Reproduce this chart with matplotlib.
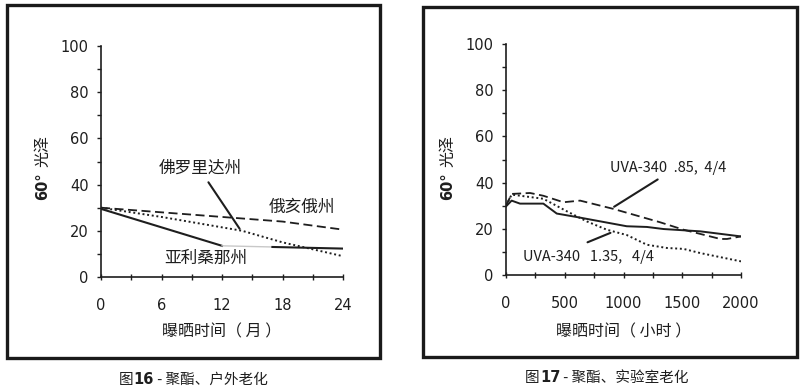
import matplotlib
matplotlib.use("Agg")
import matplotlib.pyplot as plt
from matplotlib.patches import Rectangle

plt.rcParams['font.family'] = ['DejaVu Sans', 'Noto Sans CJK SC']
CJK = ['Noto Sans CJK SC', 'DejaVu Sans']

# ---------------- data ----------------
# Fig 16: outdoor weathering (months)
florida_x = [0, 6, 12, 14, 18, 21, 24]
florida_y = [30, 26, 21.5, 20, 15, 12, 9]
ohio_x = [0, 6, 12, 18, 24]
ohio_y = [30, 28, 26, 24, 20.5]
arizona_x = [0, 12, 17, 24]
arizona_y = [29.5, 13.5, 13, 12.3]
left_xticks = [0, 6, 12, 18, 24]
left_yticks = [0, 20, 40, 60, 80, 100]

# Fig 17: lab weathering (hours)
solid_x = [0, 48, 119, 318, 432, 602, 1028, 1199, 1341, 1653, 2000]
solid_y = [29.7, 32.2, 30.9, 30.9, 26.6, 25.1, 21.1, 20.8, 19.9, 18.9, 16.7]
uva085_x = [0, 48, 205, 318, 489, 631, 915, 1313, 1511, 1824, 1881, 2000]
uva085_y = [30, 35.1, 35.5, 34.3, 31.5, 32.2, 28.6, 22.8, 19.6, 15.6, 15.6, 16.7]
uva135_x = [0, 48, 318, 517, 688, 858, 1028, 1199, 1369, 1511, 1653, 2000]
uva135_y = [30, 34.8, 33, 27.6, 23.2, 19.6, 17.3, 13.1, 11.7, 11.3, 9.5, 5.9]
right_xticks = [0, 500, 1000, 1500, 2000]
right_yticks = [0, 20, 40, 60, 80, 100]

W, H = 800, 391
fig = plt.figure(figsize=(8, 3.91), dpi=100)

def fx(px):
    return px / W

def fy(py):
    return 1 - py / H

# frames
for (x0, y0, x1, y1) in [(7, 5, 380, 358), (423, 7, 797, 357)]:
    fig.add_artist(Rectangle((fx(x0), fy(y1)), fx(x1 - x0), (y1 - y0) / H,
                             transform=fig.transFigure, fill=False,
                             lw=2.4, ec='#1a1a1a'))

ink = '#1e1e1e'

def style_axes(ax, xlim, xticks, xminor, yticks):
    ax.set_xlim(*xlim)
    ax.set_ylim(0, 100)
    for s in ['top', 'right']:
        ax.spines[s].set_visible(False)
    for s in ['left', 'bottom']:
        ax.spines[s].set_color(ink)
        ax.spines[s].set_linewidth(1.2)
    ax.set_xticks(xticks)
    ax.set_xticks(xminor, minor=True)
    ax.set_yticks(yticks)
    ax.set_yticks(list(range(10, 100, 20)), minor=True)
    ax.tick_params(axis='both', which='both', color=ink, width=1.0)
    ax.tick_params(axis='x', which='both', direction='inout', length=4, pad=13,
                   labelsize=10.5, labelcolor=ink)
    ax.tick_params(axis='y', which='both', direction='out', length=3, pad=6,
                   labelsize=10.5, labelcolor=ink)
    ax.patch.set_alpha(0)

# ---------- left chart ----------
axL = fig.add_axes([fx(101), fy(277), fx(343 - 101), (277 - 46) / H])
style_axes(axL, (0, 24), left_xticks, list(range(0, 25, 3)), left_yticks)
axL.plot(ohio_x, ohio_y, color=ink, lw=1.3, ls=(0, (5, 2.5)))
axL.plot(florida_x, florida_y, color=ink, lw=1.4, ls=(0, (1, 1.4)))
axL.plot(arizona_x[:2], arizona_y[:2], color=ink, lw=1.5)
axL.plot(arizona_x[1:3], arizona_y[1:3], color='#c8c8c8', lw=1.0)
axL.plot(arizona_x[2:], arizona_y[2:], color=ink, lw=1.5)
axL.annotate('', xy=(13.9, 19.9), xytext=(10.5, 42),
             arrowprops=dict(arrowstyle='-', color=ink, lw=1.5))
axL.text(9.8, 47, '佛罗里达州', family=CJK, fontsize=12, ha='center', va='center', color=ink)
axL.text(19.9, 30.3, '俄亥俄州', family=CJK, fontsize=12, ha='center', va='center', color=ink)
axL.text(10.4, 8.2, '亚利桑那州', family=CJK, fontsize=12, ha='center', va='center', color=ink)

# ---------- right chart ----------
axR = fig.add_axes([fx(506), fy(275), fx(741 - 506), (275 - 44) / H])
style_axes(axR, (0, 2000), right_xticks, list(range(0, 2001, 250)), right_yticks)
axR.plot(solid_x, solid_y, color=ink, lw=1.4)
axR.plot(uva085_x, uva085_y, color=ink, lw=1.3, ls=(0, (5, 2.5)))
axR.plot(uva135_x, uva135_y, color=ink, lw=1.4, ls=(0, (1, 1.4)))
axR.annotate('', xy=(900, 28.9), xytext=(1311, 42),
             arrowprops=dict(arrowstyle='-', color=ink, lw=1.5))
axR.annotate('', xy=(911, 18.7), xytext=(672, 13.7),
             arrowprops=dict(arrowstyle='-', color=ink, lw=1.5))
axR.text(1379, 46.3, 'UVA-340  .85,  4/4', family=CJK, fontsize=10.5,
         ha='center', va='center', color=ink)
axR.text(700, 7.9, 'UVA-340   1.35,   4/4', family=CJK, fontsize=10.5,
         ha='center', va='center', color=ink)

# axis titles
for cx, cy, unit in [(222, 332, '月'), (624, 332, '小时')]:
    fig.text(fx(cx), fy(cy), '曝晒时间（ %s ）' % unit, family=CJK, fontsize=11.5,
             ha='center', va='center', color=ink)

renderer = fig.canvas.get_renderer()

def ylabel(cx, cy_bottom):
    t1 = fig.text(fx(cx), fy(cy_bottom), '60°', fontsize=10.5, weight='bold',
                  rotation=90, ha='center', va='bottom', color=ink,
                  family=['DejaVu Sans'])
    bb = t1.get_window_extent(renderer)
    fig.text(fx(cx), (bb.y1 + 5) / (H), '光泽', family=CJK, fontsize=11.5,
             rotation=90, ha='center', va='bottom', color=ink)

ylabel(43, 200)
ylabel(448, 200)

def caption(cx, cy, num, rest):
    parts = [('图', 'normal', CJK), (num, 'bold', ['DejaVu Sans']),
             (' - ' + rest, 'normal', CJK)]
    texts = []
    for s, w, fam in parts:
        t = fig.text(0, fy(cy), s, fontsize=10.5, weight=w, family=fam,
                     ha='left', va='center', color=ink)
        texts.append(t)
    widths = [t.get_window_extent(renderer).width for t in texts]
    total = sum(widths)
    start = cx - total / 2
    for t, w in zip(texts, widths):
        t.set_x(start / W)
        start += w

caption(193, 380, '16', '聚酯、户外老化')
caption(607, 378, '17', '聚酯、实验室老化')

fig.savefig('out.png', dpi=100)
